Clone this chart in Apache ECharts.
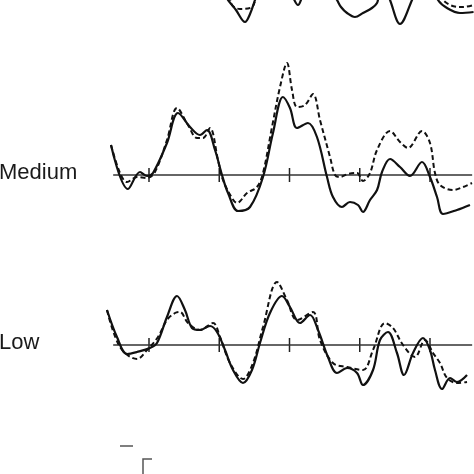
<!DOCTYPE html>
<html><head><meta charset="utf-8">
<script src="https://cdn.jsdelivr.net/npm/echarts@6/dist/echarts.min.js"></script>
<style>html,body{margin:0;padding:0;background:#fff}#c{width:474px;height:474px}</style>
</head><body><div id="c"></div>
<script>
// time in ms, amplitude in arbitrary units (positive up)
const tickValues = [0, 100, 200, 300, 400];
const baselineRange = [-51, 460];
const panelLabels = ['Medium', 'Low'];

// High panel (only its lower part is visible at the top edge)
const highSolid = [[72.6,0],[112.5,-4.0],[123.8,-5.0],[136.7,-6.2],[143.8,-5.4],[150.9,-4.0],[160.9,-2.0],[186.5,-1.0],[203.6,-3.5],[212.1,-4.5],[219.2,-3.5],[240.6,-1.0],[267.6,-4.0],[273.3,-4.7],[281.9,-5.3],[293.2,-5.7],[304.6,-5.3],[317.4,-4.8],[324.6,-4.3],[327.4,-3.5],[334.5,-2.5],[343.1,-4.0],[357.3,-6.4],[374.4,-4.0],[385.8,-2.0],[400,-2.0],[411.4,-4.0],[424.2,-4.8],[442.7,-5.3],[462,-5.2]];
const highDashed = [[90,0],[112.5,-3.0],[118.1,-4.5],[129.5,-4.9],[146.6,-4.7],[152.3,-3.7],[165,-1.0],[200,0],[300,0],[390,0],[405,-1.0],[415.7,-3.7],[428.5,-4.5],[447,-4.7],[462,-4.5]];

const medSolid = [[-54.1,3.0],[-29.9,-1.4],[-12.8,0.3],[-2.8,-0.1],[5.7,0.2],[25.6,3.2],[41.3,6.2],[58.4,4.8],[72.6,4.0],[82.6,4.5],[94.0,2.5],[103.9,0],[112.5,-1.8],[126.7,-3.6],[143.8,-3.2],[162.3,-0.2],[176.5,4.2],[190.7,7.8],[200.7,6.7],[210.7,4.7],[226.3,5.2],[239.1,3.8],[253.4,-0.2],[261.9,-2.2],[274.7,-3.2],[286.1,-2.7],[297.5,-3.0],[304.6,-3.7],[314.6,-2.5],[324.6,-1.5],[331.7,0.3],[343.1,1.6],[357.3,0.8],[371.5,-0.1],[388.6,1.3],[400.0,-0.2],[410.0,-2.2],[418.5,-3.9],[438.4,-3.5],[456.9,-3.0]];
const medDashed = [[-54.1,3.0],[-41.3,0.2],[-31.3,-0.7],[-17.1,-0.2],[-2.8,-0.3],[8.5,0.3],[25.6,3.5],[39.9,6.7],[55.5,5.0],[68.3,3.7],[76.9,3.7],[86.8,4.7],[98.2,1.5],[105.3,-0.5],[118.1,-2.3],[125.3,-2.8],[139.5,-1.8],[153.7,-1.2],[162.3,0.2],[175.1,4.8],[186.5,8.8],[196.4,11.2],[203.6,8.5],[210.7,6.8],[222.1,7.0],[233.5,8.1],[243.4,5.5],[257.7,1.8],[264.8,0],[271.9,-0.2],[283.3,0.1],[296.1,0.2],[304.6,-0.6],[314.6,0.2],[324.6,2.5],[343.1,4.4],[357.3,3.3],[368.7,2.7],[388.6,4.4],[400.0,3.2],[407.1,0.2],[414.2,-1.0],[432.7,-1.5],[447.0,-1.2],[459.8,-0.8]];

const lowSolid = [[-59.8,3.5],[-45.6,0.8],[-31.3,-0.9],[-17.1,-0.7],[1.4,-0.3],[11.4,0.2],[25.6,2.8],[39.9,4.9],[51.2,3.5],[61.2,1.7],[72.6,1.5],[86.8,1.9],[96.8,1.3],[108.2,-0.5],[119.6,-2.5],[133.8,-3.8],[146.6,-2.5],[158.0,0.2],[172.2,3.2],[189.3,4.9],[200.7,3.8],[214.9,2.2],[229.2,3.0],[240.6,1.5],[254.8,-1.2],[267.6,-2.8],[281.9,-2.3],[296.1,-2.8],[304.6,-4.0],[318.9,-2.5],[328.8,0.5],[340.2,1.3],[353.0,-0.8],[363.0,-3.0],[375.8,-0.8],[390.0,0.7],[400.0,-0.5],[407.1,-2.5],[417.1,-4.4],[428.5,-3.3],[438.4,-3.7],[452.7,-3.0]];
const lowDashed = [[-59.8,3.5],[-41.3,-0.2],[-17.1,-1.4],[-2.8,-0.5],[12.8,0.8],[25.6,2.5],[37.0,3.2],[44.1,3.3],[55.5,2.2],[72.6,1.5],[91.1,2.2],[101.1,0.8],[115.3,-1.8],[133.8,-3.4],[148.0,-1.8],[162.3,1.8],[182.2,6.3],[196.4,4.5],[210.7,2.5],[233.5,3.3],[243.4,0.5],[261.9,-1.8],[281.9,-2.2],[304.6,-2.5],[318.9,-0.5],[335.9,2.2],[347.3,1.7],[361.6,0],[378.6,-1.2],[392.8,0.5],[404.3,-0.8],[414.2,-1.8],[424.2,-3.3],[438.4,-3.8],[452.7,-3.7]];

const chart = echarts.init(document.getElementById('c'), null, {renderer: 'canvas'});
const X = {min: -60, max: 462};
const grids = [
  {left: 106.85, width: 366.7, top: 0, height: 30},       // high: only bottom part visible, y range [-7,-4]
  {left: 106.85, width: 366.7, top: 55, height: 170},     // medium: [-5,12], baseline at 175
  {left: 106.85, width: 366.7, top: 265, height: 130}     // low: [-5,8], baseline at 345
];
const yRanges = [[-7, -4], [-5, 12], [-5, 8]];
const INK = '#111';
function xAx(i){return {gridIndex:i, type:'value', min:X.min, max:X.max, show:false};}
function yAx(i){return {gridIndex:i, type:'value', min:yRanges[i][0], max:yRanges[i][1], show:false};}
function curve(i, data, dashed){
  return {type:'line', xAxisIndex:i, yAxisIndex:i, data:data, smooth:0.35, symbol:'none', silent:true, clip:true,
    lineStyle:{color:INK, width:dashed?2:2.2, type:dashed?[5,3]:'solid'}, z:dashed?3:4};
}
function base(i){
  return {type:'line', xAxisIndex:i, yAxisIndex:i, data:[[baselineRange[0],0],[baselineRange[1],0]], symbol:'none', silent:true,
    lineStyle:{color:'#333', width:1.5}, z:2};
}
function ticks(i){
  return {type:'custom', xAxisIndex:i, yAxisIndex:i, data:tickValues.map(v=>[v,0]), silent:true, z:2,
    renderItem:function(params, api){
      const p = api.coord([api.value(0), api.value(1)]);
      return {type:'line', shape:{x1:p[0], y1:p[1]-7, x2:p[0], y2:p[1]+7}, style:{stroke:'#222', lineWidth:1.5}};
    }};
}
const series = [
  curve(0, highSolid, false), curve(0, highDashed, true),
  base(1), ticks(1), curve(1, medSolid, false), curve(1, medDashed, true),
  base(2), ticks(2), curve(2, lowSolid, false), curve(2, lowDashed, true)
];
chart.setOption({
  animation:false,
  backgroundColor:'#fff',
  grid:grids,
  xAxis:[xAx(0), xAx(1), xAx(2)],
  yAxis:[yAx(0), yAx(1), yAx(2)],
  series:series,
  graphic:[
    {type:'text', left:-1, top:162, style:{text:panelLabels[0], font:'22px "Liberation Sans", Arial, sans-serif', fill:'#1a1a1a'}},
    {type:'text', left:-1, top:332, style:{text:panelLabels[1], font:'22px "Liberation Sans", Arial, sans-serif', fill:'#1a1a1a'}},
    {type:'line', shape:{x1:120, y1:446, x2:133, y2:446}, style:{stroke:'#555', lineWidth:1.5}},
    {type:'polyline', shape:{points:[[143,474],[143,459],[152,459]]}, style:{stroke:'#555', lineWidth:1.5, fill:null}}
  ]
});
</script></body></html>
